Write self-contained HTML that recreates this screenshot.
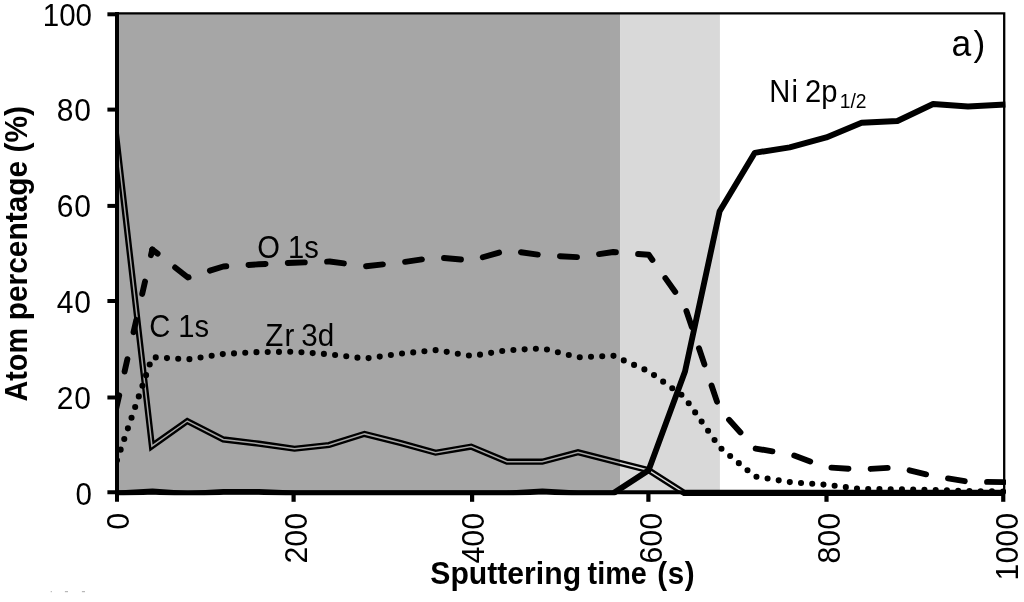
<!DOCTYPE html>
<html lang="en"><head><meta charset="utf-8"><title>XPS depth profile</title>
<style>
html,body{margin:0;padding:0;background:#fff;}
body{width:1024px;height:602px;overflow:hidden;}
svg{display:block;}
text{font-family:"Liberation Sans",Arial,Helvetica,sans-serif;fill:#000;}
.b{font-weight:bold;}
</style></head><body>
<svg width="1024" height="602" viewBox="0 0 1024 602">
<rect x="0" y="0" width="1024" height="602" fill="#fff"/>
<rect x="117" y="13.3" width="503.4" height="479.5" fill="#a6a6a6"/>
<rect x="620.4" y="13.3" width="99.5" height="479.5" fill="#d9d9d9"/>

<path d="M117,13.3 H1004.2 V492.8" fill="none" stroke="#000" stroke-width="2.3"/>
<clipPath id="cp"><rect x="117" y="0" width="889" height="495.3"/></clipPath><clipPath id="cp2"><rect x="117" y="0" width="888.3" height="498"/></clipPath>
<mask id="dbl" maskUnits="userSpaceOnUse" x="0" y="0" width="1024" height="602"><rect x="0" y="0" width="1024" height="602" fill="#fff"/><path d="M115.90,133.00 L151.90,446.10 L187.30,421.00 L223.30,439.40 L258.80,443.70 L294.50,448.75 L329.00,445.00 L364.50,433.90 L400.60,443.00 L435.60,452.70 L471.10,446.60 L507.00,461.70 L542.20,461.70 L578.00,452.20 L613.30,461.20 L648.60,470.20 L684.20,492.80 L1004.20,492.80" fill="none" stroke="#000" stroke-width="1.5" stroke-linejoin="miter"/></mask>
<path d="M115.90,133.00 L151.90,446.10 L187.30,421.00 L223.30,439.40 L258.80,443.70 L294.50,448.75 L329.00,445.00 L364.50,433.90 L400.60,443.00 L435.60,452.70 L471.10,446.60 L507.00,461.70 L542.20,461.70 L578.00,452.20 L613.30,461.20 L648.60,470.20 L684.20,492.80 L1004.20,492.80" fill="none" stroke="#000" stroke-width="6.2" stroke-linejoin="miter" mask="url(#dbl)" clip-path="url(#cp2)"/>
<g clip-path="url(#cp)">
<path d="M117.00,460.30 L152.20,357.20 L187.90,359.40 L223.35,354.00 L258.80,352.00 L294.25,351.80 L329.70,354.30 L365.15,358.60 L400.60,353.70 L436.05,350.10 L471.50,356.00 L506.95,350.30 L542.40,348.40 L577.85,357.30 L613.30,355.80 L648.75,371.30 L684.20,396.80 L719.65,447.30 L755.10,476.60 L790.55,482.20 L826.00,484.80 L861.45,489.00 L896.90,489.30 L932.35,490.00 L967.80,491.00 L1003.25,491.50" fill="none" stroke="#000" stroke-width="6.1" stroke-linecap="round" stroke-linejoin="round" stroke-dasharray="0 11.25"/>
<path d="M115.93,409.7 L119.20,395.3 M124.60,371.5 L127.40,359.2 M133.53,332.2 L136.34,319.8 M142.22,293.9 L145.01,281.6 M151.00,255.2 L152.3,249.5" fill="none" stroke="#000" stroke-width="5.9" stroke-linecap="round" stroke-linejoin="round"/>
<path d="M152.30,249.50 L187.90,277.50 L223.35,266.50 L258.80,264.30 L294.25,262.70 L329.70,261.50 L365.15,266.30 L400.60,262.50 L436.05,257.30 L471.50,260.50 L506.95,250.30 L542.40,255.20 L577.85,257.20 L613.30,252.00 L648.75,254.80 L684.20,304.50 L719.65,409.50 L755.10,448.50 L790.55,454.20 L826.00,467.30 L861.45,469.50 L896.90,467.30 L932.35,475.80 L967.80,481.70 L1004.50,482.10" fill="none" stroke="#000" stroke-width="5.9" stroke-linecap="round" stroke-linejoin="round" stroke-dasharray="17 22.3" stroke-dashoffset="10.26"/>
<path d="M117.00,493.40 L152.45,491.50 L187.90,494.00 L223.35,491.90 L258.80,491.90 L294.25,493.40 L329.70,493.40 L365.15,493.40 L400.60,493.40 L436.05,493.40 L471.50,493.40 L506.95,493.40 L542.40,491.40 L577.85,493.40 L613.30,493.20 L648.60,470.20 L685.00,371.50 L719.65,211.20 L754.80,152.80 L789.70,147.30 L826.30,137.40 L861.60,122.80 L897.40,121.00 L933.10,104.00 L968.00,106.50 L1005.40,104.50" fill="none" stroke="#000" stroke-width="5.9" stroke-linejoin="round"/>
</g>
<path d="M117,12.1 V501.8" fill="none" stroke="#000" stroke-width="4"/>
<path d="M107.4,492.25 H1005.3" fill="none" stroke="#000" stroke-width="4.1"/>
<path d="M107.4,14.3 H117" stroke="#000" stroke-width="4"/>
<path d="M107.4,109.6 H117" stroke="#000" stroke-width="4"/>
<path d="M107.4,205.9 H117" stroke="#000" stroke-width="4"/>
<path d="M107.4,301.0 H117" stroke="#000" stroke-width="4"/>
<path d="M107.4,397.5 H117" stroke="#000" stroke-width="4"/>
<path d="M293.6,492 V501.8" stroke="#000" stroke-width="4.2"/>
<path d="M472.1,492 V501.8" stroke="#000" stroke-width="4.2"/>
<path d="M648.4,492 V501.8" stroke="#000" stroke-width="4.2"/>
<path d="M826.5,492 V501.8" stroke="#000" stroke-width="4.2"/>
<path d="M1003.25,492 V501.8" stroke="#000" stroke-width="4.2"/>
<text transform="translate(92,25.6) scale(0.985,1.065)" font-size="30" text-anchor="end">100</text>
<text transform="translate(91.9,121.1) scale(1.0,1.065)" font-size="30" text-anchor="end"><tspan letter-spacing="0.9">80</tspan></text>
<text transform="translate(91.9,217.0) scale(1.0,1.065)" font-size="30" text-anchor="end"><tspan letter-spacing="0.9">60</tspan></text>
<text transform="translate(91.9,312.9) scale(1.0,1.065)" font-size="30" text-anchor="end"><tspan letter-spacing="0.9">40</tspan></text>
<text transform="translate(91.9,409.3) scale(1.0,1.065)" font-size="30" text-anchor="end"><tspan letter-spacing="0.9">20</tspan></text>
<text transform="translate(92,505.2) scale(0.985,1.065)" font-size="30" text-anchor="end">0</text>
<text transform="translate(128.6,513) rotate(-90) scale(1.01,1.065)" font-size="30" text-anchor="end">0</text>
<text transform="translate(306.5,513) rotate(-90) scale(1.01,1.065)" font-size="30" text-anchor="end">200</text>
<text transform="translate(484.4,513) rotate(-90) scale(1.01,1.065)" font-size="30" text-anchor="end">400</text>
<text transform="translate(662.3,513) rotate(-90) scale(1.01,1.065)" font-size="30" text-anchor="end">600</text>
<text transform="translate(840.2,513) rotate(-90) scale(1.01,1.065)" font-size="30" text-anchor="end">800</text>
<text transform="translate(1018.1,513) rotate(-90) scale(1.01,1.065)" font-size="30" text-anchor="end">1000</text>
<text class="b" transform="translate(27.4,401.6) rotate(-90) scale(0.962,1.02)" font-size="30" text-anchor="start">Atom</text>
<text class="b" transform="translate(27.4,320.3) rotate(-90) scale(0.9966,1.02)" font-size="30" text-anchor="start">percentage (%)</text>
<text class="b" transform="translate(430.3,583.5) scale(1.0055,1.02)" font-size="30" text-anchor="start">Sputtering</text>
<text class="b" transform="translate(587.6,583.5) scale(0.96,1.02)" font-size="30" text-anchor="start">time</text>
<text class="b" transform="translate(657.3,583.5) scale(0.985,1.02)" font-size="30" text-anchor="start"><tspan letter-spacing="0.6">(s)</tspan></text>
<text transform="translate(951.5,55.8) scale(0.985,1.025)" font-size="36" text-anchor="start">a</text>
<text transform="translate(973.4,55.6) scale(0.985,0.99)" font-size="36" text-anchor="start">)</text>
<text transform="translate(769.3,101.8) scale(0.985,1.065)" font-size="29.6" text-anchor="start"><tspan letter-spacing="1.1">Ni</tspan><tspan dx="-2.2"> 2p</tspan><tspan font-size="19.6" dy="5.4" dx="2.4">1/2</tspan></text>
<text transform="translate(257.2,257.8) scale(0.985,1.08)" font-size="29.6" text-anchor="start">O 1s</text>
<text transform="translate(149.2,336.9) scale(0.985,1.07)" font-size="29.6" text-anchor="start">C 1s</text>
<text transform="translate(265.3,346.0) scale(1.0,1.08)" font-size="29.6" text-anchor="start"><tspan letter-spacing="1.2">Zr</tspan><tspan dx="-2.6"> 3d</tspan></text>
<path d="M50.7,591.7h1.2M64.9,591.7h3.1M81.9,591.7h3.1" stroke="#a8a8a8" stroke-width="1"/>
</svg></body></html>
